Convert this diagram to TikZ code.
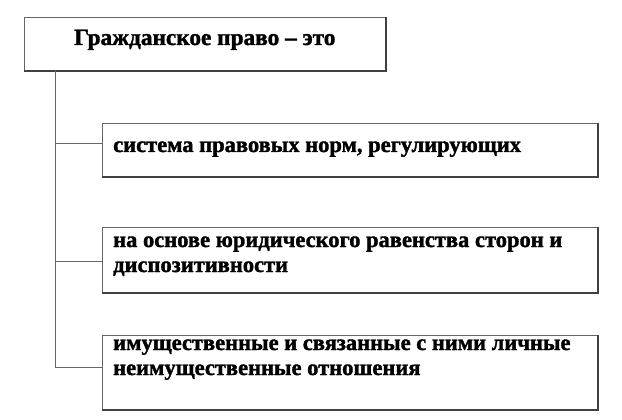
\documentclass[tikz,border=0pt]{standalone}
\usepackage{fontspec}
\setmainfont{Liberation Serif}[BoldFeatures={FakeBold=1.5}]
\usetikzlibrary{calc}
\definecolor{edge}{gray}{0.4}
\tikzset{
  box/.style={draw=edge, line width=0.7pt, fill=white, rectangle, inner sep=0pt, anchor=north west},
  txt/.style={font=\fontsize{22.5}{25}\selectfont\bfseries, align=left, inner sep=0pt, anchor=base west},
  conn/.style={draw=edge, line width=0.9pt},
  shade/.style={draw=black!75, line width=1.8pt}
}
\begin{document}
\begin{tikzpicture}[x=1pt,y=-1pt]
\useasboundingbox (0,0) rectangle (622,420);
% boxes
\node[box, minimum width=361pt, minimum height=53pt] (top) at (24,17) {};
\node[box, minimum width=495pt, minimum height=53pt] (b1) at (102,123) {};
\node[box, minimum width=495pt, minimum height=65pt] (b2) at (102,227) {};
\node[box, minimum width=495pt, minimum height=74pt] (b3) at (102,335) {};
% shadow edges (right and bottom)
\foreach \n in {top,b1,b2,b3}{
  \draw[shade] (\n.north east) -- (\n.south east) -- (\n.south west);
}
% texts
\node[txt, font=\fontsize{23.3}{25}\selectfont\bfseries, anchor=base] (t0) at ($(top.north)+(0,28)$) {Гражданское право – это};
\node[txt] (t1) at ($(b1.north west)+(11,29)$) {система правовых норм, регулирующих};
\node[txt] (t2) at ($(b2.north west)+(11,45)$) {на основе юридического равенства сторон и\\диспозитивности};
\node[txt] (t3) at ($(b3.north west)+(11,40)$) {имущественные и связанные с ними личные\\неимущественные отношения};
% connectors
\coordinate (trunk) at (55,70);
\coordinate (c1) at ($(b1.north west)+(0,20)$);
\coordinate (c2) at ($(b2.north west)+(0,34)$);
\coordinate (c3) at ($(b3.north west)+(0,32)$);
\draw[conn] (trunk) |- (c3);
\draw[conn] (c1 -| trunk) -- (c1);
\draw[conn] (c2 -| trunk) -- (c2);
\end{tikzpicture}
\end{document}
